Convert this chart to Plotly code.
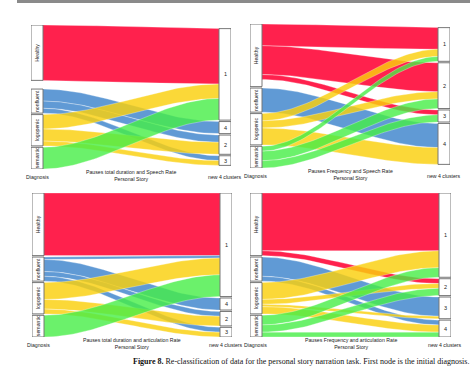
import numpy as np
import plotly.graph_objects as go

W, H = 474, 367

# ---------------- data ----------------
diagnosis = ["Healthy", "nonfluent", "logopenic", "semantic"]
clusters = ["1", "2", "3", "4"]

titles = [
    "Pauses total duration and Speech Rate",
    "Pauses Frequency and Speech Rate",
    "Pauses total duration and articulation Rate",
    "Pauses Frequency and articulation Rate",
]
story = "Personal Story"
left_axis_label = "Diagnosis"
right_axis_label = "new 4 clusters"
caption = ("<b>Figure 8.</b> Re-classification of data for the personal story "
           "narration task. First node is the initial diagnosis.")

# counts per diagnosis going to clusters [1, 2, 3, 4]
p1_healthy = [23, 0, 0, 0]
p1_nonfluent = [0, 3, 2, 5]
p1_logopenic = [6, 5, 2, 0]
p1_semantic = [9, 0, 0, 0]
p1_unassigned = 3
p1_order = ["1", "4", "2", "3"]

p2_healthy = [9, 12, 2, 0]
p2_nonfluent = [0, 0, 0, 10]
p2_logopenic = [3, 3, 0, 7]
p2_semantic = [2, 4, 3, 0]
p2_unassigned = 3
p2_order = ["1", "2", "3", "4"]

p3_healthy = [26, 0, 0, 0]
p3_nonfluent = [1, 2, 2, 5]
p3_logopenic = [7, 4, 2, 0]
p3_semantic = [9, 0, 0, 0]
p3_unassigned = 0
p3_order = ["1", "4", "2", "3"]

p4_healthy = [24, 2, 0, 0]
p4_nonfluent = [0, 0, 8, 2]
p4_logopenic = [7, 2, 1, 3]
p4_semantic = [4, 3, 0, 2]
p4_unassigned = 0
p4_order = ["1", "2", "3", "4"]

# ---------------- style ----------------
diag_colors = ["rgba(255,0,50,0.87)", "rgba(68,136,206,0.85)",
               "rgba(250,208,12,0.82)", "rgba(70,238,70,0.8)"]
FONT = "Liberation Sans, Arial, sans-serif"
GAP = 0.6
BOX_PX = 12
frames = [(31, 231, 25, 169), (250, 450, 24, 168),
          (32, 232, 193, 337), (250, 451, 193, 337)]
unassigned_boxed = [False, True, False, False]

panels = [
    dict(flows=[p1_healthy, p1_nonfluent, p1_logopenic, p1_semantic], hidden=p1_unassigned, order=p1_order),
    dict(flows=[p2_healthy, p2_nonfluent, p2_logopenic, p2_semantic], hidden=p2_unassigned, order=p2_order),
    dict(flows=[p3_healthy, p3_nonfluent, p3_logopenic, p3_semantic], hidden=p3_unassigned, order=p3_order),
    dict(flows=[p4_healthy, p4_nonfluent, p4_logopenic, p4_semantic], hidden=p4_unassigned, order=p4_order),
]

fig = go.Figure()
shapes, annotations = [], []
layout_axes = {}

t = np.linspace(0, 1, 60)
s = t * t * (3 - 2 * t)


def small_text(x, y, text, xref="paper", yref="paper", angle=0, size=5.2):
    return dict(x=x, y=y, xref=xref, yref=yref, text=text, textangle=angle,
                xanchor="center", yanchor="middle", showarrow=False,
                font=dict(size=size, color="#222", family=FONT))


for k, (p, fr) in enumerate(zip(panels, frames), start=1):
    sx = "" if k == 1 else str(k)
    xa, ya = "x" + sx, "y" + sx
    x0, x1, y0, y1 = fr
    bw = BOX_PX / (x1 - x0)
    flows = np.array(p["flows"], dtype=float)
    order = [clusters.index(c) for c in p["order"]]

    # left strata
    left_top, left_boxes = [], []
    cur = 0.0
    for i in range(len(diagnosis)):
        vis = flows[i].sum()
        hid = p["hidden"] if i == 0 else 0
        end = cur + vis + (hid if unassigned_boxed[k - 1] else 0)
        left_top.append(cur)
        left_boxes.append((cur, end))
        cur += vis + hid + GAP
    total = cur - GAP

    # right strata
    csum = flows.sum(axis=0)
    rtot = csum.sum() + GAP * (len(order) - 1)
    cur = (total - rtot) / 2
    right_top, right_boxes = {}, {}
    for c in order:
        right_top[c] = cur
        right_boxes[c] = (cur, cur + csum[c])
        cur += csum[c] + GAP

    # stack flows
    segs = {}
    lcur = list(left_top)
    for i in range(len(diagnosis)):
        for c in order:
            v = flows[i][c]
            if v > 0:
                segs[(i, c)] = [lcur[i], lcur[i] + v, 0, 0]
                lcur[i] += v
    rcur = dict(right_top)
    for c in order:
        for i in range(len(diagnosis)):
            v = flows[i][c]
            if v > 0:
                segs[(i, c)][2] = rcur[c]
                segs[(i, c)][3] = rcur[c] + v
                rcur[c] += v

    xx = bw + (1 - 2 * bw) * t
    for i in range(len(diagnosis)):
        for c in order:
            if (i, c) not in segs:
                continue
            a, b, c0, d = segs[(i, c)]
            top = a + (c0 - a) * s
            bot = b + (d - b) * s
            fig.add_trace(go.Scatter(
                x=np.concatenate([xx, xx[::-1], xx[:1]]),
                y=np.concatenate([top, bot[::-1], top[:1]]),
                xaxis=xa, yaxis=ya, mode="lines", fill="toself",
                fillcolor=diag_colors[i],
                line=dict(width=0.5, color="rgba(255,255,255,0.6)"),
                hoverinfo="skip", showlegend=False))

    # boxes + labels
    for i, (bt, be) in enumerate(left_boxes):
        shapes.append(dict(type="rect", xref=xa, yref=ya, x0=0, x1=bw, y0=bt, y1=be,
                           fillcolor="white", line=dict(color="#555", width=0.8), layer="above"))
        annotations.append(small_text(bw / 2, (bt + be) / 2, diagnosis[i], xa, ya, angle=-90))
    for c in order:
        bt, be = right_boxes[c]
        shapes.append(dict(type="rect", xref=xa, yref=ya, x0=1 - bw, x1=1, y0=bt, y1=be,
                           fillcolor="white", line=dict(color="#555", width=0.8), layer="above"))
        annotations.append(small_text(1 - bw / 2, (bt + be) / 2, clusters[c], xa, ya, size=5.5))

    layout_axes["xaxis" + sx] = dict(domain=[x0 / W, x1 / W], range=[0, 1], visible=False,
                                     anchor=ya, fixedrange=True)
    layout_axes["yaxis" + sx] = dict(domain=[1 - y1 / H, 1 - y0 / H], range=[total, 0],
                                     visible=False, anchor=xa, fixedrange=True)

    # axis labels and title below
    annotations.append(small_text((x0 + BOX_PX / 2) / W, 1 - (y1 + 8) / H, left_axis_label))
    annotations.append(small_text((x1 - BOX_PX / 2) / W, 1 - (y1 + 8) / H, right_axis_label))
    annotations.append(small_text((x0 + x1) / 2 / W, 1 - (y1 + 6.5) / H,
                                  titles[k - 1] + "<br>" + story))

# caption + top rule
annotations.append(dict(x=131 / W, y=1 - 361 / H, xref="paper", yref="paper",
                        xanchor="left", yanchor="middle",
                        text=caption, showarrow=False,
                        font=dict(size=8, color="#111", family="Liberation Serif, Times New Roman, serif")))
shapes.append(dict(type="rect", xref="paper", yref="paper", x0=17 / W, x1=470 / W, y0=1, y1=1 - 3 / H,
                   fillcolor="#8a8a8a", line=dict(width=0)))

fig.update_layout(width=W, height=H, margin=dict(l=0, r=0, t=0, b=0),
                  paper_bgcolor="white", plot_bgcolor="white",
                  shapes=shapes, annotations=annotations, **layout_axes)
fig.write_html("out.html", config={"displayModeBar": False, "staticPlot": True},
               post_script="document.body.style.margin='0';document.body.style.overflow='hidden';")
